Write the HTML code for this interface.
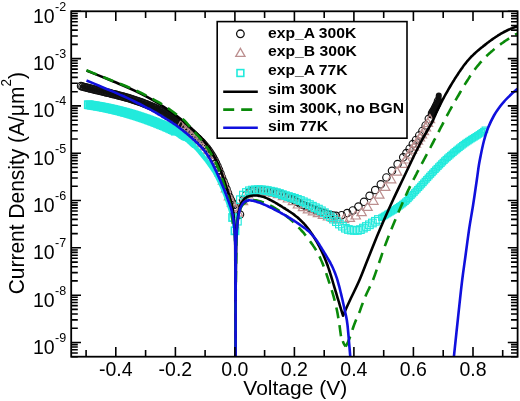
<!DOCTYPE html><html><head><meta charset="utf-8"><style>html,body{margin:0;padding:0;background:#fff;}svg{display:block;}text{font-family:"Liberation Sans", Arial, Helvetica, sans-serif;}</style></head><body>
<svg width="520" height="401" viewBox="0 0 520 401">
<rect x="0" y="0" width="520" height="401" fill="#fff"/>
<defs><clipPath id="c"><rect x="71.2" y="11.3" width="446.4" height="345.4"/></clipPath></defs>
<g clip-path="url(#c)">
<path d="M82.3,86.5 L83.2,86.7 L84.1,86.9 L85.1,87.2 L86.2,87.5 L87.4,87.8 L88.6,88.1 L89.7,88.4 L90.9,88.7 L92.0,88.9 L93.0,89.2 L94.0,89.4 L95.0,89.7 L96.0,89.9 L97.0,90.2 L98.0,90.4 L99.0,90.6 L100.0,90.9 L101.0,91.1 L102.0,91.3 L103.0,91.6 L104.0,91.8 L105.0,92.1 L106.0,92.3 L107.0,92.5 L108.0,92.8 L109.0,93.0 L110.0,93.3 L111.0,93.5 L112.0,93.7 L113.0,94.0 L114.0,94.2 L115.0,94.5 L116.0,94.7 L117.0,95.0 L118.0,95.3 L119.0,95.5 L120.0,95.8 L121.0,96.0 L122.0,96.3 L123.0,96.6 L124.0,96.9 L125.0,97.1 L126.0,97.4 L127.0,97.7 L128.0,98.0 L129.0,98.3 L130.0,98.6 L131.0,98.9 L132.0,99.2 L133.0,99.5 L134.0,99.8 L135.0,100.2 L136.0,100.5 L137.0,100.8 L138.0,101.2 L139.0,101.5 L140.0,101.9 L141.0,102.2 L142.0,102.6 L143.0,103.0 L144.0,103.4 L145.0,103.7 L146.0,104.1 L147.0,104.5 L148.0,104.9 L149.0,105.4 L150.0,105.8 L151.0,106.2 L152.0,106.7 L153.0,107.1 L154.0,107.6 L155.0,108.0 L156.0,108.5 L157.0,109.0 L158.0,109.5 L159.0,110.0 L160.0,110.5 L161.0,111.0 L162.0,111.5 L163.0,112.1 L164.0,112.6 L165.0,113.2 L166.0,113.8 L167.0,114.4 L168.1,115.0 L169.1,115.7 L170.2,116.3 L171.2,117.0 L172.3,117.7 L173.3,118.3 L174.3,119.0 L175.2,119.6 L176.1,120.2 L177.0,120.8 L177.8,121.3 L178.6,121.9 L179.3,122.4 L180.0,122.9 L180.6,123.4 L181.2,123.8 L181.9,124.3 L182.5,124.8 L183.1,125.3 L183.7,125.8 L184.3,126.3 L185.0,126.8 L185.7,127.4 L186.3,128.0 L187.0,128.6 L187.7,129.2 L188.4,129.8 L189.1,130.4 L189.7,131.0" fill="none" stroke="#111" stroke-width="4.6" stroke-linecap="round"/>
<path d="M430.7,115.4 L430.9,115.0 L431.1,114.7 L431.3,114.4 L431.5,114.1 L431.7,113.8 L431.9,113.5 L432.1,113.2 L432.3,112.8 L432.5,112.5 L432.7,112.1 L432.9,111.8 L433.1,111.4 L433.4,111.0 L433.6,110.6 L433.8,110.2 L434.0,109.9 L434.2,109.5 L434.4,109.1 L434.6,108.7 L434.8,108.4 L435.0,108.0 L435.2,107.6 L435.4,107.3 L435.6,107.0 L435.7,106.6 L435.9,106.3 L436.1,106.0 L436.2,105.6 L436.4,105.3 L436.6,105.0 L436.7,104.7 L436.9,104.3 L437.0,104.0 L437.1,103.7 L437.3,103.3 L437.4,103.0 L437.5,102.7 L437.6,102.4 L437.7,102.0 L437.8,101.7 L437.9,101.4 L438.0,101.0 L438.0,100.7 L438.1,100.4 L438.2,100.0 L438.3,99.6 L438.3,99.2 L438.4,98.8 L438.5,98.4 L438.5,97.9 L438.6,97.5 L438.6,97.1 L438.7,96.7 L438.7,96.3 L438.7,96.0 L438.8,95.7 L438.8,95.5" fill="none" stroke="#111" stroke-width="6" stroke-linecap="round"/>
<g fill="none" stroke="#111" stroke-width="1.15">
<circle cx="81.0" cy="86.1" r="3.7"/>
<circle cx="82.5" cy="86.5" r="3.7"/>
<circle cx="84.0" cy="86.9" r="3.7"/>
<circle cx="85.5" cy="87.3" r="3.7"/>
<circle cx="87.0" cy="87.7" r="3.7"/>
<circle cx="88.5" cy="88.1" r="3.7"/>
<circle cx="90.0" cy="88.4" r="3.7"/>
<circle cx="91.5" cy="88.8" r="3.7"/>
<circle cx="93.0" cy="89.2" r="3.7"/>
<circle cx="94.5" cy="89.6" r="3.7"/>
<circle cx="96.0" cy="89.9" r="3.7"/>
<circle cx="97.5" cy="90.3" r="3.7"/>
<circle cx="99.0" cy="90.6" r="3.7"/>
<circle cx="100.5" cy="91.0" r="3.7"/>
<circle cx="102.0" cy="91.3" r="3.7"/>
<circle cx="103.5" cy="91.7" r="3.7"/>
<circle cx="105.0" cy="92.1" r="3.7"/>
<circle cx="106.5" cy="92.4" r="3.7"/>
<circle cx="108.0" cy="92.8" r="3.7"/>
<circle cx="109.5" cy="93.1" r="3.7"/>
<circle cx="111.0" cy="93.5" r="3.7"/>
<circle cx="112.5" cy="93.9" r="3.7"/>
<circle cx="114.0" cy="94.2" r="3.7"/>
<circle cx="115.5" cy="94.6" r="3.7"/>
<circle cx="117.0" cy="95.0" r="3.7"/>
<circle cx="118.5" cy="95.4" r="3.7"/>
<circle cx="120.0" cy="95.8" r="3.7"/>
<circle cx="121.5" cy="96.2" r="3.7"/>
<circle cx="123.0" cy="96.6" r="3.7"/>
<circle cx="124.5" cy="97.0" r="3.7"/>
<circle cx="126.0" cy="97.4" r="3.7"/>
<circle cx="127.5" cy="97.8" r="3.7"/>
<circle cx="129.0" cy="98.3" r="3.7"/>
<circle cx="130.5" cy="98.7" r="3.7"/>
<circle cx="132.0" cy="99.2" r="3.7"/>
<circle cx="133.5" cy="99.7" r="3.7"/>
<circle cx="135.0" cy="100.2" r="3.7"/>
<circle cx="136.5" cy="100.7" r="3.7"/>
<circle cx="138.0" cy="101.2" r="3.7"/>
<circle cx="139.5" cy="101.7" r="3.7"/>
<circle cx="141.0" cy="102.2" r="3.7"/>
<circle cx="142.5" cy="102.8" r="3.7"/>
<circle cx="144.0" cy="103.4" r="3.7"/>
<circle cx="145.5" cy="103.9" r="3.7"/>
<circle cx="147.0" cy="104.5" r="3.7"/>
<circle cx="148.5" cy="105.2" r="3.7"/>
<circle cx="150.0" cy="105.8" r="3.7"/>
<circle cx="151.5" cy="106.4" r="3.7"/>
<circle cx="153.0" cy="107.1" r="3.7"/>
<circle cx="154.5" cy="107.8" r="3.7"/>
<circle cx="156.0" cy="108.5" r="3.7"/>
<circle cx="157.5" cy="109.2" r="3.7"/>
<circle cx="159.0" cy="110.0" r="3.7"/>
<circle cx="160.5" cy="110.8" r="3.7"/>
<circle cx="162.0" cy="111.5" r="3.7"/>
<circle cx="163.5" cy="112.4" r="3.7"/>
<circle cx="165.0" cy="113.2" r="3.7"/>
<circle cx="166.5" cy="114.1" r="3.7"/>
<circle cx="168.0" cy="115.0" r="3.7"/>
<circle cx="169.5" cy="115.9" r="3.7"/>
<circle cx="171.0" cy="116.8" r="3.7"/>
<circle cx="172.5" cy="117.8" r="3.7"/>
<circle cx="174.0" cy="118.8" r="3.7"/>
<circle cx="175.5" cy="119.8" r="3.7"/>
<circle cx="177.0" cy="120.8" r="3.7"/>
<circle cx="178.5" cy="121.8" r="3.7"/>
<circle cx="180.0" cy="122.9" r="3.7"/>
<circle cx="181.5" cy="124.0" r="3.7"/>
<circle cx="183.0" cy="125.2" r="3.7"/>
<circle cx="184.5" cy="126.4" r="3.7"/>
<circle cx="186.0" cy="127.7" r="3.7"/>
<circle cx="187.5" cy="129.0" r="3.7"/>
<circle cx="189.0" cy="130.3" r="3.7"/>
<circle cx="190.5" cy="131.7" r="3.7"/>
<circle cx="192.0" cy="133.1" r="3.7"/>
<circle cx="193.5" cy="134.5" r="3.7"/>
<circle cx="195.0" cy="135.8" r="3.7"/>
<circle cx="196.5" cy="137.2" r="3.7"/>
<circle cx="198.0" cy="138.6" r="3.7"/>
<circle cx="199.5" cy="140.0" r="3.7"/>
<circle cx="201.0" cy="141.5" r="3.7"/>
<circle cx="202.5" cy="143.1" r="3.7"/>
<circle cx="204.0" cy="144.7" r="3.7"/>
<circle cx="205.5" cy="146.4" r="3.7"/>
<circle cx="207.0" cy="148.3" r="3.7"/>
<circle cx="208.5" cy="150.3" r="3.7"/>
<circle cx="210.0" cy="152.5" r="3.7"/>
<circle cx="211.5" cy="154.8" r="3.7"/>
<circle cx="213.0" cy="157.3" r="3.7"/>
<circle cx="214.5" cy="160.1" r="3.7"/>
<circle cx="216.0" cy="163.0" r="3.7"/>
<circle cx="217.5" cy="166.3" r="3.7"/>
<circle cx="219.0" cy="169.8" r="3.7"/>
<circle cx="220.5" cy="173.5" r="3.7"/>
<circle cx="222.0" cy="177.4" r="3.7"/>
<circle cx="223.5" cy="181.3" r="3.7"/>
<circle cx="225.0" cy="185.1" r="3.7"/>
<circle cx="226.5" cy="189.0" r="3.7"/>
<circle cx="228.0" cy="193.1" r="3.7"/>
<circle cx="229.5" cy="197.0" r="3.7"/>
<circle cx="231.0" cy="200.2" r="3.7"/>
<circle cx="232.5" cy="203.0" r="3.7"/>
<circle cx="234.0" cy="205.0" r="3.7"/>
<circle cx="235.5" cy="207.0" r="3.7"/>
<circle cx="237.0" cy="210.1" r="3.7"/>
<circle cx="240.0" cy="214.5" r="3.7"/>
<circle cx="243.0" cy="200.1" r="3.7"/>
<circle cx="246.0" cy="194.9" r="3.7"/>
<circle cx="249.0" cy="192.6" r="3.7"/>
<circle cx="252.0" cy="191.1" r="3.7"/>
<circle cx="255.0" cy="190.3" r="3.7"/>
<circle cx="258.0" cy="190.0" r="3.7"/>
<circle cx="261.0" cy="190.0" r="3.7"/>
<circle cx="264.0" cy="190.2" r="3.7"/>
<circle cx="267.0" cy="190.6" r="3.7"/>
<circle cx="270.0" cy="191.1" r="3.7"/>
<circle cx="273.0" cy="191.7" r="3.7"/>
<circle cx="276.0" cy="192.5" r="3.7"/>
<circle cx="279.0" cy="193.4" r="3.7"/>
<circle cx="282.0" cy="194.6" r="3.7"/>
<circle cx="285.0" cy="195.8" r="3.7"/>
<circle cx="288.0" cy="197.1" r="3.7"/>
<circle cx="291.0" cy="198.5" r="3.7"/>
<circle cx="294.0" cy="200.1" r="3.7"/>
<circle cx="297.0" cy="201.9" r="3.7"/>
<circle cx="300.0" cy="203.5" r="3.7"/>
<circle cx="303.0" cy="204.9" r="3.7"/>
<circle cx="306.0" cy="206.2" r="3.7"/>
<circle cx="309.0" cy="207.4" r="3.7"/>
<circle cx="312.0" cy="208.6" r="3.7"/>
<circle cx="315.0" cy="209.8" r="3.7"/>
<circle cx="318.0" cy="210.9" r="3.7"/>
<circle cx="321.0" cy="212.0" r="3.7"/>
<circle cx="324.0" cy="213.0" r="3.7"/>
<circle cx="327.0" cy="214.0" r="3.7"/>
<circle cx="330.0" cy="214.8" r="3.7"/>
<circle cx="333.0" cy="215.4" r="3.7"/>
<circle cx="336.0" cy="215.8" r="3.7"/>
<circle cx="341.6" cy="215.2" r="3.7"/>
<circle cx="347.2" cy="213.0" r="3.7"/>
<circle cx="352.8" cy="210.4" r="3.7"/>
<circle cx="358.4" cy="206.6" r="3.7"/>
<circle cx="364.0" cy="201.8" r="3.7"/>
<circle cx="369.6" cy="195.8" r="3.7"/>
<circle cx="375.2" cy="190.0" r="3.7"/>
<circle cx="380.8" cy="184.3" r="3.7"/>
<circle cx="386.4" cy="177.4" r="3.7"/>
<circle cx="392.0" cy="170.8" r="3.7"/>
<circle cx="397.6" cy="164.0" r="3.7"/>
<circle cx="403.2" cy="157.3" r="3.7"/>
<circle cx="406.4" cy="153.1" r="3.7"/>
<circle cx="409.6" cy="148.7" r="3.7"/>
<circle cx="412.8" cy="144.1" r="3.7"/>
<circle cx="416.0" cy="139.9" r="3.7"/>
<circle cx="419.2" cy="135.4" r="3.7"/>
<circle cx="422.4" cy="130.9" r="3.7"/>
<circle cx="425.6" cy="125.4" r="3.7"/>
<circle cx="428.8" cy="118.8" r="3.7"/>
<circle cx="432.0" cy="113.3" r="3.7"/>
<circle cx="433.0" cy="111.6" r="3.7"/>
<circle cx="434.0" cy="109.9" r="3.7"/>
<circle cx="435.0" cy="108.0" r="3.7"/>
<circle cx="436.0" cy="106.1" r="3.7"/>
<circle cx="437.0" cy="104.0" r="3.7"/>
<circle cx="438.0" cy="100.9" r="3.7"/>
</g>
<g fill="none" stroke="#bc8f8f" stroke-width="1.2">
<path d="M181.0,120.1l4.7,8.2h-9.4z"/>
<path d="M184.0,122.6l4.7,8.2h-9.4z"/>
<path d="M187.0,125.0l4.7,8.2h-9.4z"/>
<path d="M190.0,127.4l4.7,8.2h-9.4z"/>
<path d="M193.0,129.9l4.7,8.2h-9.4z"/>
<path d="M196.0,132.6l4.7,8.2h-9.4z"/>
<path d="M199.0,135.4l4.7,8.2h-9.4z"/>
<path d="M202.0,138.4l4.7,8.2h-9.4z"/>
<path d="M205.0,141.7l4.7,8.2h-9.4z"/>
<path d="M208.0,145.5l4.7,8.2h-9.4z"/>
<path d="M211.0,149.9l4.7,8.2h-9.4z"/>
<path d="M214.0,155.0l4.7,8.2h-9.4z"/>
<path d="M217.0,161.1l4.7,8.2h-9.4z"/>
<path d="M220.0,168.1l4.7,8.2h-9.4z"/>
<path d="M223.0,175.9l4.7,8.2h-9.4z"/>
<path d="M226.0,183.6l4.7,8.2h-9.4z"/>
<path d="M229.0,191.7l4.7,8.2h-9.4z"/>
<path d="M232.0,198.0l4.7,8.2h-9.4z"/>
<path d="M235.0,202.2l4.7,8.2h-9.4z"/>
<path d="M238.0,207.9l4.7,8.2h-9.4z"/>
<path d="M243.0,196.5l4.7,8.2h-9.4z"/>
<path d="M248.0,189.6l4.7,8.2h-9.4z"/>
<path d="M253.0,187.2l4.7,8.2h-9.4z"/>
<path d="M258.0,186.4l4.7,8.2h-9.4z"/>
<path d="M263.0,186.5l4.7,8.2h-9.4z"/>
<path d="M268.0,187.1l4.7,8.2h-9.4z"/>
<path d="M273.0,188.1l4.7,8.2h-9.4z"/>
<path d="M278.0,189.5l4.7,8.2h-9.4z"/>
<path d="M283.0,191.5l4.7,8.2h-9.4z"/>
<path d="M288.0,193.8l4.7,8.2h-9.4z"/>
<path d="M293.0,196.5l4.7,8.2h-9.4z"/>
<path d="M298.0,199.8l4.7,8.2h-9.4z"/>
<path d="M303.0,202.4l4.7,8.2h-9.4z"/>
<path d="M308.0,204.6l4.7,8.2h-9.4z"/>
<path d="M313.0,206.6l4.7,8.2h-9.4z"/>
<path d="M318.0,208.5l4.7,8.2h-9.4z"/>
<path d="M323.0,210.2l4.7,8.2h-9.4z"/>
<path d="M328.0,211.8l4.7,8.2h-9.4z"/>
<path d="M333.0,213.3l4.7,8.2h-9.4z"/>
<path d="M338.0,214.7l4.7,8.2h-9.4z"/>
<path d="M343.9,214.3l4.7,8.2h-9.4z"/>
<path d="M349.8,213.1l4.7,8.2h-9.4z"/>
<path d="M355.7,210.8l4.7,8.2h-9.4z"/>
<path d="M361.6,207.4l4.7,8.2h-9.4z"/>
<path d="M367.5,202.2l4.7,8.2h-9.4z"/>
<path d="M373.4,196.1l4.7,8.2h-9.4z"/>
<path d="M379.3,189.9l4.7,8.2h-9.4z"/>
<path d="M385.2,182.2l4.7,8.2h-9.4z"/>
<path d="M391.1,174.6l4.7,8.2h-9.4z"/>
<path d="M397.0,166.9l4.7,8.2h-9.4z"/>
<path d="M402.9,159.2l4.7,8.2h-9.4z"/>
<path d="M405.9,154.8l4.7,8.2h-9.4z"/>
<path d="M408.9,149.8l4.7,8.2h-9.4z"/>
<path d="M411.9,145.0l4.7,8.2h-9.4z"/>
<path d="M413.9,142.0l4.7,8.2h-9.4z"/>
<path d="M415.9,139.0l4.7,8.2h-9.4z"/>
<path d="M417.9,135.9l4.7,8.2h-9.4z"/>
<path d="M419.9,132.8l4.7,8.2h-9.4z"/>
<path d="M421.9,129.7l4.7,8.2h-9.4z"/>
<path d="M423.9,126.5l4.7,8.2h-9.4z"/>
<path d="M425.9,122.8l4.7,8.2h-9.4z"/>
<path d="M427.9,118.3l4.7,8.2h-9.4z"/>
<path d="M429.9,114.4l4.7,8.2h-9.4z"/>
</g>
<path d="M89.6,104.9 L90.5,105.0 L91.4,105.2 L92.4,105.4 L93.5,105.5 L94.7,105.7 L95.9,105.9 L97.0,106.1 L98.2,106.3 L99.3,106.5 L100.3,106.7 L101.3,106.9 L102.3,107.1 L103.3,107.3 L104.3,107.5 L105.3,107.7 L106.3,107.9 L107.3,108.1 L108.3,108.3 L109.3,108.5 L110.3,108.8 L111.3,109.0 L112.3,109.2 L113.3,109.4 L114.3,109.7 L115.3,109.9 L116.3,110.1 L117.3,110.4 L118.3,110.6 L119.3,110.9 L120.3,111.1 L121.3,111.4 L122.3,111.7 L123.3,111.9 L124.3,112.2 L125.3,112.5 L126.3,112.7 L127.3,113.0 L128.3,113.3 L129.3,113.6 L130.3,113.9 L131.3,114.2 L132.3,114.5 L133.3,114.8 L134.3,115.1 L135.3,115.4 L136.3,115.7 L137.3,116.0 L138.3,116.3 L139.3,116.7 L140.3,117.0 L141.3,117.3 L142.3,117.7 L143.3,118.0 L144.3,118.4 L145.3,118.7 L146.3,119.0 L147.3,119.4 L148.3,119.8 L149.3,120.1 L150.3,120.5 L151.4,120.9 L152.4,121.3 L153.4,121.7 L154.4,122.1 L155.5,122.5 L156.5,122.8 L157.5,123.2 L158.4,123.6 L159.4,124.0 L160.3,124.4 L161.2,124.7 L162.1,125.1 L163.0,125.5 L163.9,125.9 L164.7,126.2 L165.6,126.6 L166.4,126.9 L167.2,127.3 L168.0,127.6 L168.7,127.9 L169.4,128.2 L170.0,128.5 L170.6,128.8 L171.1,129.0 L171.6,129.2 L172.0,129.4 L172.4,129.6 L172.8,129.8 L173.2,130.0 L173.5,130.2 L173.9,130.3 L174.2,130.5 L174.6,130.8 L175.0,131.0 L175.4,131.3 L175.8,131.5 L176.2,131.8 L176.7,132.1 L177.1,132.4 L177.5,132.7 L177.9,133.0 L178.3,133.3 L178.8,133.6 L179.2,133.9 L179.6,134.2 L180.0,134.5" fill="none" stroke="#22eadc" stroke-width="6" stroke-linecap="round"/>
<path d="M168.7,127.9 L169.4,128.2 L170.0,128.5 L170.6,128.8 L171.1,129.0 L171.6,129.2 L172.0,129.4 L172.4,129.6 L172.8,129.8 L173.2,130.0 L173.5,130.2 L173.9,130.3 L174.2,130.5 L174.6,130.8 L175.0,131.0 L175.4,131.3 L175.8,131.5 L176.2,131.8 L176.7,132.1 L177.1,132.4 L177.5,132.7 L177.9,133.0 L178.3,133.3 L178.8,133.6 L179.2,133.9 L179.6,134.2 L180.0,134.5 L180.4,134.8 L180.8,135.1 L181.2,135.4 L181.7,135.6 L182.1,135.9 L182.5,136.2 L182.9,136.5 L183.3,136.8 L183.8,137.1" fill="none" stroke="#22eadc" stroke-width="7.6" stroke-linecap="round"/>
<path d="M184.2,137.4 L184.6,137.7 L185.0,138.0 L185.4,138.3 L185.8,138.6 L186.2,138.9 L186.6,139.2 L187.0,139.5 L187.4,139.8 L187.8,140.1 L188.2,140.4 L188.6,140.8 L189.1,141.2 L189.5,141.6 L190.0,142.0 L190.5,142.5 L191.1,143.0 L191.7,143.6 L192.3,144.1 L192.9,144.8 L193.5,145.4" fill="none" stroke="#22eadc" stroke-width="5.5" stroke-linecap="round"/>
<path d="M192.3,144.1 L192.9,144.8 L193.5,145.4 L194.1,146.0 L194.7,146.6 L195.3,147.2 L195.9,147.9 L196.5,148.4 L197.0,149.0 L197.5,149.5 L198.0,150.1 L198.4,150.6 L198.8,151.1 L199.3,151.6 L199.7,152.1 L200.1,152.6 L200.4,153.1 L200.8,153.6 L201.2,154.0 L201.6,154.5 L202.0,155.0 L202.4,155.5 L202.8,155.9 L203.2,156.4 L203.6,156.9 L203.9,157.3 L204.3,157.8 L204.7,158.2 L205.1,158.7 L205.4,159.1 L205.8,159.6 L206.1,160.0 L206.5,160.5 L206.9,161.0 L207.2,161.4 L207.5,161.9 L207.9,162.3 L208.2,162.8 L208.5,163.2 L208.9,163.7 L209.2,164.1 L209.5,164.6 L209.8,165.1 L210.2,165.5 L210.5,166.0 L210.8,166.5 L211.2,167.0 L211.5,167.5 L211.9,167.9 L212.2,168.4 L212.5,168.9 L212.9,169.4 L213.2,169.9 L213.5,170.5 L213.9,171.0 L214.2,171.5 L214.5,172.0 L214.8,172.5 L215.1,173.0 L215.4,173.6 L215.7,174.1 L216.0,174.6 L216.3,175.2 L216.6,175.7 L216.9,176.3 L217.2,176.8 L217.4,177.4 L217.7,177.9 L218.0,178.5 L218.3,179.1 L218.6,179.6 L218.8,180.2 L219.1,180.8 L219.4,181.4 L219.7,182.0 L220.0,182.6 L220.2,183.1 L220.5,183.7 L220.8,184.3 L221.0,184.9 L221.3,185.5 L221.6,186.1 L221.8,186.7 L222.1,187.3 L222.3,187.9 L222.6,188.4 L222.9,189.0 L223.1,189.6 L223.3,190.2 L223.6,190.8 L223.8,191.4 L224.1,191.9 L224.3,192.5 L224.5,193.1 L224.7,193.6 L225.0,194.1 L225.2,194.7 L225.4,195.2 L225.6,195.8 L225.8,196.3 L226.0,196.8 L226.2,197.4 L226.4,197.9 L226.6,198.4 L226.8,199.0 L227.0,199.6 L227.2,200.1 L227.4,200.7 L227.6,201.3 L227.8,201.9 L228.0,202.5 L228.2,203.1 L228.4,203.6 L228.6,204.2 L228.8,204.8 L229.0,205.4 L229.2,206.0 L229.4,206.6 L229.6,207.2 L229.8,207.8 L230.0,208.3 L230.2,208.9 L230.3,209.5 L230.5,210.1 L230.7,210.7 L230.9,211.2 L231.1,211.8 L231.2,212.4 L231.4,213.0 L231.6,213.6 L231.7,214.2 L231.9,214.8 L232.0,215.3 L232.2,215.9 L232.3,216.5 L232.5,217.1 L232.6,217.7 L232.8,218.2 L232.9,218.8 L233.1,219.4 L233.2,220.0 L233.3,220.6 L233.5,221.2 L233.6,221.8 L233.7,222.4 L233.8,223.0 L234.0,223.6 L234.1,224.2 L234.2,224.7 L234.3,225.3 L234.4,225.9" fill="none" stroke="#22eadc" stroke-width="4.3" stroke-linecap="round"/>
<g fill="none" stroke="#22eadc" stroke-width="1.6">
<rect x="84.7" y="101.1" width="7.2" height="7.2"/>
<rect x="86.2" y="101.3" width="7.2" height="7.2"/>
<rect x="87.7" y="101.6" width="7.2" height="7.2"/>
<rect x="89.2" y="101.8" width="7.2" height="7.2"/>
<rect x="90.7" y="102.1" width="7.2" height="7.2"/>
<rect x="92.2" y="102.3" width="7.2" height="7.2"/>
<rect x="93.7" y="102.6" width="7.2" height="7.2"/>
<rect x="95.2" y="102.8" width="7.2" height="7.2"/>
<rect x="96.7" y="103.1" width="7.2" height="7.2"/>
<rect x="98.2" y="103.4" width="7.2" height="7.2"/>
<rect x="99.7" y="103.7" width="7.2" height="7.2"/>
<rect x="101.2" y="104.0" width="7.2" height="7.2"/>
<rect x="102.7" y="104.3" width="7.2" height="7.2"/>
<rect x="104.2" y="104.6" width="7.2" height="7.2"/>
<rect x="105.7" y="104.9" width="7.2" height="7.2"/>
<rect x="107.2" y="105.3" width="7.2" height="7.2"/>
<rect x="108.7" y="105.6" width="7.2" height="7.2"/>
<rect x="110.2" y="105.9" width="7.2" height="7.2"/>
<rect x="111.7" y="106.3" width="7.2" height="7.2"/>
<rect x="113.2" y="106.7" width="7.2" height="7.2"/>
<rect x="114.7" y="107.0" width="7.2" height="7.2"/>
<rect x="116.2" y="107.4" width="7.2" height="7.2"/>
<rect x="117.7" y="107.8" width="7.2" height="7.2"/>
<rect x="119.2" y="108.2" width="7.2" height="7.2"/>
<rect x="120.7" y="108.6" width="7.2" height="7.2"/>
<rect x="122.2" y="109.0" width="7.2" height="7.2"/>
<rect x="123.7" y="109.4" width="7.2" height="7.2"/>
<rect x="125.2" y="109.9" width="7.2" height="7.2"/>
<rect x="126.7" y="110.3" width="7.2" height="7.2"/>
<rect x="128.2" y="110.7" width="7.2" height="7.2"/>
<rect x="129.7" y="111.2" width="7.2" height="7.2"/>
<rect x="131.2" y="111.6" width="7.2" height="7.2"/>
<rect x="132.7" y="112.1" width="7.2" height="7.2"/>
<rect x="134.2" y="112.6" width="7.2" height="7.2"/>
<rect x="135.7" y="113.1" width="7.2" height="7.2"/>
<rect x="137.2" y="113.6" width="7.2" height="7.2"/>
<rect x="138.7" y="114.1" width="7.2" height="7.2"/>
<rect x="140.2" y="114.6" width="7.2" height="7.2"/>
<rect x="141.7" y="115.1" width="7.2" height="7.2"/>
<rect x="143.2" y="115.6" width="7.2" height="7.2"/>
<rect x="144.7" y="116.2" width="7.2" height="7.2"/>
<rect x="146.2" y="116.7" width="7.2" height="7.2"/>
<rect x="147.7" y="117.3" width="7.2" height="7.2"/>
<rect x="149.2" y="117.8" width="7.2" height="7.2"/>
<rect x="150.7" y="118.4" width="7.2" height="7.2"/>
<rect x="152.2" y="119.0" width="7.2" height="7.2"/>
<rect x="153.7" y="119.6" width="7.2" height="7.2"/>
<rect x="155.2" y="120.2" width="7.2" height="7.2"/>
<rect x="156.7" y="120.8" width="7.2" height="7.2"/>
<rect x="158.2" y="121.4" width="7.2" height="7.2"/>
<rect x="159.7" y="122.0" width="7.2" height="7.2"/>
<rect x="161.2" y="122.6" width="7.2" height="7.2"/>
<rect x="162.7" y="123.3" width="7.2" height="7.2"/>
<rect x="164.2" y="123.9" width="7.2" height="7.2"/>
<rect x="165.7" y="124.6" width="7.2" height="7.2"/>
<rect x="167.2" y="125.3" width="7.2" height="7.2"/>
<rect x="168.7" y="126.0" width="7.2" height="7.2"/>
<rect x="170.2" y="126.7" width="7.2" height="7.2"/>
<rect x="171.7" y="127.6" width="7.2" height="7.2"/>
<rect x="229.0" y="213.9" width="7.2" height="7.2"/>
<rect x="231.4" y="227.2" width="7.2" height="7.2"/>
</g>
<g fill="none" stroke="#22eadc" stroke-width="1.25">
<rect x="378.7" y="215.0" width="5.4" height="5.4"/>
<rect x="380.2" y="214.1" width="5.4" height="5.4"/>
<rect x="381.7" y="213.2" width="5.4" height="5.4"/>
<rect x="383.2" y="212.3" width="5.4" height="5.4"/>
<rect x="384.7" y="211.3" width="5.4" height="5.4"/>
<rect x="386.2" y="210.4" width="5.4" height="5.4"/>
<rect x="387.7" y="209.5" width="5.4" height="5.4"/>
<rect x="389.2" y="208.6" width="5.4" height="5.4"/>
<rect x="390.7" y="207.7" width="5.4" height="5.4"/>
<rect x="392.2" y="206.7" width="5.4" height="5.4"/>
<rect x="393.7" y="205.6" width="5.4" height="5.4"/>
<rect x="395.2" y="204.6" width="5.4" height="5.4"/>
<rect x="396.7" y="203.6" width="5.4" height="5.4"/>
<rect x="398.2" y="202.5" width="5.4" height="5.4"/>
<rect x="399.7" y="201.4" width="5.4" height="5.4"/>
<rect x="401.2" y="200.2" width="5.4" height="5.4"/>
<rect x="402.7" y="199.0" width="5.4" height="5.4"/>
<rect x="404.2" y="197.6" width="5.4" height="5.4"/>
<rect x="405.7" y="196.1" width="5.4" height="5.4"/>
<rect x="407.2" y="194.5" width="5.4" height="5.4"/>
<rect x="408.7" y="192.9" width="5.4" height="5.4"/>
<rect x="410.2" y="191.4" width="5.4" height="5.4"/>
<rect x="411.7" y="189.8" width="5.4" height="5.4"/>
<rect x="413.2" y="188.2" width="5.4" height="5.4"/>
<rect x="414.7" y="186.6" width="5.4" height="5.4"/>
<rect x="416.2" y="185.0" width="5.4" height="5.4"/>
<rect x="417.7" y="183.4" width="5.4" height="5.4"/>
<rect x="419.2" y="181.7" width="5.4" height="5.4"/>
<rect x="420.7" y="180.1" width="5.4" height="5.4"/>
<rect x="422.2" y="178.4" width="5.4" height="5.4"/>
<rect x="423.7" y="176.7" width="5.4" height="5.4"/>
<rect x="425.2" y="175.1" width="5.4" height="5.4"/>
<rect x="426.7" y="173.4" width="5.4" height="5.4"/>
<rect x="428.2" y="171.8" width="5.4" height="5.4"/>
<rect x="429.7" y="170.2" width="5.4" height="5.4"/>
<rect x="431.2" y="168.6" width="5.4" height="5.4"/>
<rect x="432.7" y="167.0" width="5.4" height="5.4"/>
<rect x="434.2" y="165.5" width="5.4" height="5.4"/>
<rect x="435.7" y="163.9" width="5.4" height="5.4"/>
<rect x="437.2" y="162.4" width="5.4" height="5.4"/>
<rect x="438.7" y="160.9" width="5.4" height="5.4"/>
<rect x="440.2" y="159.4" width="5.4" height="5.4"/>
<rect x="441.7" y="157.9" width="5.4" height="5.4"/>
<rect x="443.2" y="156.5" width="5.4" height="5.4"/>
<rect x="444.7" y="155.1" width="5.4" height="5.4"/>
<rect x="446.2" y="153.8" width="5.4" height="5.4"/>
<rect x="447.7" y="152.5" width="5.4" height="5.4"/>
<rect x="449.2" y="151.2" width="5.4" height="5.4"/>
<rect x="450.7" y="149.9" width="5.4" height="5.4"/>
<rect x="452.2" y="148.6" width="5.4" height="5.4"/>
<rect x="453.7" y="147.4" width="5.4" height="5.4"/>
<rect x="455.2" y="146.2" width="5.4" height="5.4"/>
<rect x="456.7" y="145.0" width="5.4" height="5.4"/>
<rect x="458.2" y="143.8" width="5.4" height="5.4"/>
<rect x="459.7" y="142.6" width="5.4" height="5.4"/>
<rect x="461.2" y="141.5" width="5.4" height="5.4"/>
<rect x="462.7" y="140.4" width="5.4" height="5.4"/>
<rect x="464.2" y="139.4" width="5.4" height="5.4"/>
<rect x="465.7" y="138.4" width="5.4" height="5.4"/>
<rect x="467.2" y="137.4" width="5.4" height="5.4"/>
<rect x="468.7" y="136.4" width="5.4" height="5.4"/>
<rect x="470.2" y="135.5" width="5.4" height="5.4"/>
<rect x="471.7" y="134.6" width="5.4" height="5.4"/>
<rect x="473.2" y="133.6" width="5.4" height="5.4"/>
<rect x="474.7" y="132.7" width="5.4" height="5.4"/>
<rect x="476.2" y="131.7" width="5.4" height="5.4"/>
<rect x="477.7" y="130.7" width="5.4" height="5.4"/>
<rect x="479.2" y="129.6" width="5.4" height="5.4"/>
<rect x="480.7" y="128.5" width="5.4" height="5.4"/>
<rect x="482.2" y="127.1" width="5.4" height="5.4"/>
</g>
<g fill="none" stroke="#22eadc" stroke-width="1.15">
<rect x="233.6" y="217.4" width="7.6" height="7.6"/>
<rect x="236.6" y="195.9" width="7.6" height="7.6"/>
<rect x="239.6" y="191.3" width="7.6" height="7.6"/>
<rect x="242.6" y="188.7" width="7.6" height="7.6"/>
<rect x="245.6" y="187.0" width="7.6" height="7.6"/>
<rect x="248.6" y="186.3" width="7.6" height="7.6"/>
<rect x="251.6" y="186.0" width="7.6" height="7.6"/>
<rect x="254.6" y="185.9" width="7.6" height="7.6"/>
<rect x="257.6" y="186.0" width="7.6" height="7.6"/>
<rect x="260.6" y="186.3" width="7.6" height="7.6"/>
<rect x="263.6" y="186.8" width="7.6" height="7.6"/>
<rect x="266.6" y="187.4" width="7.6" height="7.6"/>
<rect x="269.6" y="188.0" width="7.6" height="7.6"/>
<rect x="272.6" y="188.8" width="7.6" height="7.6"/>
<rect x="275.6" y="189.7" width="7.6" height="7.6"/>
<rect x="278.6" y="190.8" width="7.6" height="7.6"/>
<rect x="281.6" y="191.8" width="7.6" height="7.6"/>
<rect x="284.6" y="192.7" width="7.6" height="7.6"/>
<rect x="287.6" y="193.6" width="7.6" height="7.6"/>
<rect x="290.6" y="194.5" width="7.6" height="7.6"/>
<rect x="293.6" y="195.6" width="7.6" height="7.6"/>
<rect x="296.6" y="196.7" width="7.6" height="7.6"/>
<rect x="299.6" y="198.0" width="7.6" height="7.6"/>
<rect x="302.6" y="199.3" width="7.6" height="7.6"/>
<rect x="305.6" y="200.8" width="7.6" height="7.6"/>
<rect x="308.6" y="202.4" width="7.6" height="7.6"/>
<rect x="311.6" y="203.9" width="7.6" height="7.6"/>
<rect x="314.6" y="205.3" width="7.6" height="7.6"/>
<rect x="317.6" y="207.0" width="7.6" height="7.6"/>
<rect x="320.6" y="208.9" width="7.6" height="7.6"/>
<rect x="323.6" y="210.9" width="7.6" height="7.6"/>
<rect x="326.6" y="213.0" width="7.6" height="7.6"/>
<rect x="329.6" y="215.3" width="7.6" height="7.6"/>
<rect x="332.6" y="217.8" width="7.6" height="7.6"/>
<rect x="335.6" y="220.2" width="7.6" height="7.6"/>
<rect x="338.6" y="222.4" width="7.6" height="7.6"/>
<rect x="341.6" y="224.4" width="7.6" height="7.6"/>
<rect x="344.6" y="225.7" width="7.6" height="7.6"/>
<rect x="347.6" y="226.3" width="7.6" height="7.6"/>
<rect x="350.6" y="226.6" width="7.6" height="7.6"/>
<rect x="353.6" y="226.6" width="7.6" height="7.6"/>
<rect x="356.6" y="225.8" width="7.6" height="7.6"/>
<rect x="359.6" y="224.3" width="7.6" height="7.6"/>
<rect x="362.6" y="222.7" width="7.6" height="7.6"/>
<rect x="365.6" y="221.0" width="7.6" height="7.6"/>
<rect x="368.6" y="219.2" width="7.6" height="7.6"/>
<rect x="371.6" y="217.5" width="7.6" height="7.6"/>
<rect x="374.6" y="215.7" width="7.6" height="7.6"/>
</g>
<g fill="none" stroke-linejoin="round">
<path d="M86.5,70.6 C88.5,71.4 94.5,73.8 98.5,75.4 C102.5,77.0 106.5,78.6 110.5,80.2 C114.5,81.8 118.5,83.5 122.5,85.2 C126.5,86.9 130.5,88.7 134.5,90.6 C138.5,92.5 142.5,94.5 146.5,96.6 C150.5,98.7 154.5,101.0 158.5,103.5 C162.5,105.9 166.5,108.5 170.5,111.4 C174.5,114.3 180.1,118.7 182.5,120.6 C184.9,122.5 182.9,120.8 185.0,122.7 C187.1,124.6 192.0,129.1 195.0,132.0 C198.0,134.9 200.5,137.1 203.0,140.0 C205.5,142.9 207.8,146.2 210.0,149.5 C212.2,152.8 214.2,156.6 216.0,160.0 C217.8,163.4 219.2,166.7 220.5,170.0 C221.8,173.3 222.9,176.8 224.0,180.0 C225.1,183.2 226.0,186.0 227.0,189.0 C228.0,192.0 229.1,194.8 230.0,198.0 C230.9,201.2 231.8,204.0 232.5,208.0 C233.2,212.0 233.8,215.8 234.2,222.0 C234.6,228.2 235.0,222.6 235.2,245.0 C235.4,267.4 235.5,338.1 235.6,356.7" stroke="#000" stroke-width="2.6"/>
<path d="M235.6,300.0 C235.7,290.0 236.0,253.3 236.3,240.0 C236.6,226.7 237.2,224.8 237.6,220.0 C238.0,215.2 238.5,213.5 239.0,211.0 C239.5,208.5 239.8,206.8 240.5,205.0 C241.2,203.2 242.1,201.7 243.0,200.5 C243.9,199.3 244.8,198.3 246.0,197.6 C247.2,196.8 248.7,196.3 250.0,196.0 C251.3,195.7 253.0,195.6 254.0,195.5 C255.0,195.4 255.3,195.5 256.0,195.5 C256.7,195.5 257.3,195.6 258.0,195.6 C258.7,195.7 259.3,195.8 260.0,196.0 C260.7,196.1 261.3,196.3 262.0,196.5 C262.7,196.7 263.3,196.9 264.0,197.1 C264.7,197.3 265.3,197.6 266.0,197.9 C266.7,198.2 267.3,198.4 268.0,198.8 C268.7,199.1 269.3,199.4 270.0,199.8 C270.7,200.1 271.3,200.5 272.0,200.8 C272.7,201.2 273.3,201.6 274.0,201.9 C274.7,202.3 275.3,202.7 276.0,203.1 C276.7,203.5 277.3,203.9 278.0,204.3 C278.7,204.7 279.3,205.1 280.0,205.5 C280.7,205.9 281.3,206.3 282.0,206.7 C282.7,207.2 283.3,207.6 284.0,208.0 C284.7,208.4 285.3,208.8 286.0,209.3 C286.7,209.7 287.3,210.1 288.0,210.5 C288.7,211.0 289.3,211.4 290.0,211.8 C290.7,212.3 291.3,212.7 292.0,213.2 C292.7,213.6 293.3,214.1 294.0,214.6 C294.7,215.1 295.3,215.7 296.0,216.2 C296.7,216.7 297.3,217.3 298.0,217.9 C298.7,218.4 299.3,219.0 300.0,219.7 C300.7,220.3 301.3,220.9 302.0,221.6 C302.7,222.3 303.3,223.0 304.0,223.7 C304.7,224.4 305.3,225.2 306.0,226.0 C306.7,226.8 307.3,227.6 308.0,228.5 C308.7,229.4 309.3,230.3 310.0,231.2 C310.7,232.1 311.3,233.1 312.0,234.1 C312.7,235.1 313.3,236.1 314.0,237.2 C314.7,238.2 315.3,239.3 316.0,240.5 C316.7,241.6 317.3,242.8 318.0,244.0 C318.7,245.2 319.3,246.5 320.0,247.8 C320.7,249.1 321.3,250.5 322.0,251.9 C322.7,253.3 323.3,254.8 324.0,256.4 C324.7,257.9 325.3,259.5 326.0,261.2 C326.7,262.9 327.3,264.7 328.0,266.6 C328.7,268.5 329.3,270.5 330.0,272.6 C330.7,274.7 331.3,277.0 332.0,279.2 C332.7,281.4 333.3,283.6 334.0,285.8 C334.7,288.1 335.3,290.3 336.0,292.5 C336.7,294.7 337.3,296.9 338.0,299.1 C338.7,301.3 339.3,303.5 340.0,305.8 C340.7,308.0 341.5,310.7 342.0,312.4 C342.5,314.0 342.8,315.1 343.0,315.7 M343.0,315.7 C344.3,312.7 348.2,303.9 351.0,298.0 C353.8,292.1 356.8,286.3 359.5,280.0 C362.2,273.7 364.8,266.7 367.5,260.0 C370.2,253.3 372.8,246.7 375.5,240.0 C378.2,233.3 381.1,226.7 384.0,220.0 C386.9,213.3 389.9,206.7 393.0,200.0 C396.1,193.3 399.3,186.7 402.5,180.0 C405.7,173.3 408.8,166.7 412.0,160.0 C415.2,153.3 418.7,146.2 422.0,140.0 C425.3,133.8 430.0,126.2 432.0,122.5 C434.0,118.8 433.3,119.4 434.0,117.9 C434.7,116.4 435.3,114.9 436.0,113.4 C436.7,112.0 437.3,110.5 438.0,109.1 C438.7,107.7 439.3,106.4 440.0,105.1 C440.7,103.7 441.3,102.4 442.0,101.1 C442.7,99.8 443.3,98.6 444.0,97.3 C444.7,96.1 445.3,94.9 446.0,93.7 C446.7,92.5 447.3,91.3 448.0,90.2 C448.7,89.0 449.3,87.9 450.0,86.8 C450.7,85.6 451.3,84.5 452.0,83.4 C452.7,82.3 453.3,81.2 454.0,80.2 C454.7,79.1 455.3,78.0 456.0,77.0 C456.7,75.9 457.3,74.9 458.0,73.9 C458.7,72.9 459.3,71.9 460.0,70.9 C460.7,69.9 461.3,69.0 462.0,68.1 C462.7,67.1 463.3,66.2 464.0,65.3 C464.7,64.5 465.3,63.6 466.0,62.8 C466.7,62.0 467.3,61.1 468.0,60.4 C468.7,59.6 469.3,58.9 470.0,58.1 C470.7,57.4 471.3,56.7 472.0,56.1 C472.7,55.4 473.3,54.8 474.0,54.1 C474.7,53.5 475.3,52.9 476.0,52.3 C476.7,51.7 477.3,51.1 478.0,50.5 C478.7,49.9 479.3,49.4 480.0,48.8 C480.7,48.3 481.3,47.7 482.0,47.2 C482.7,46.7 483.3,46.1 484.0,45.6 C484.7,45.1 485.3,44.6 486.0,44.1 C486.7,43.6 487.3,43.0 488.0,42.5 C488.7,42.0 489.3,41.5 490.0,41.0 C490.7,40.5 491.3,40.1 492.0,39.6 C492.7,39.1 493.3,38.6 494.0,38.2 C494.7,37.7 495.3,37.3 496.0,36.8 C496.7,36.4 497.3,36.0 498.0,35.5 C498.7,35.1 499.3,34.7 500.0,34.3 C500.7,33.9 501.3,33.5 502.0,33.1 C502.7,32.7 503.3,32.4 504.0,32.0 C504.7,31.6 505.3,31.3 506.0,31.0 C506.7,30.6 507.3,30.3 508.0,30.0 C508.7,29.7 509.3,29.4 510.0,29.1 C510.7,28.8 511.3,28.5 512.0,28.3 C512.7,28.0 513.3,27.8 514.0,27.6 C514.7,27.3 515.4,27.1 516.0,26.9 C516.6,26.7 517.3,26.6 517.6,26.5" stroke="#000" stroke-width="2.6" stroke-linecap="round"/>
<path d="M86.5,70.3 C88.5,71.1 94.5,73.6 98.5,75.2 C102.5,76.8 106.5,78.4 110.5,80.0 C114.5,81.6 118.5,83.1 122.5,84.8 C126.5,86.4 130.5,88.1 134.5,89.9 C138.5,91.7 142.5,93.6 146.5,95.6 C150.5,97.7 154.5,99.9 158.5,102.2 C162.5,104.6 166.5,107.2 170.5,110.0 C174.5,112.8 180.1,117.2 182.5,119.1 C184.9,121.0 183.1,119.1 185.0,121.2 C186.9,123.3 191.2,128.4 194.0,131.5 C196.8,134.6 199.1,137.0 201.5,140.0 C203.9,143.0 206.3,146.2 208.5,149.5 C210.7,152.8 212.8,156.6 214.5,160.0 C216.2,163.4 217.7,166.7 219.0,170.0 C220.3,173.3 221.4,176.8 222.5,180.0 C223.6,183.2 224.5,186.0 225.5,189.0 C226.5,192.0 227.6,194.8 228.5,198.0 C229.4,201.2 230.3,204.0 231.0,208.0 C231.7,212.0 232.0,215.8 232.7,222.0 C233.4,228.2 234.7,222.6 235.2,245.0 C235.7,267.4 235.5,338.1 235.6,356.7" stroke="#0a8a0a" stroke-width="2.6" stroke-dasharray="11,7"/>
<path d="M235.6,300.0 C235.8,289.2 236.2,248.7 236.6,235.0 C237.0,221.3 237.6,222.2 238.2,218.0 C238.8,213.8 239.3,212.2 240.0,210.0 C240.7,207.8 241.5,206.3 242.5,205.0 C243.5,203.7 244.6,202.8 246.0,202.0 C247.4,201.2 249.8,200.5 251.0,200.2 C252.2,199.9 252.3,200.0 253.0,200.0 C253.7,200.0 254.3,200.1 255.0,200.2 C255.7,200.3 256.3,200.4 257.0,200.5 C257.7,200.7 258.3,200.8 259.0,201.0 C259.7,201.2 260.3,201.4 261.0,201.6 C261.7,201.8 262.3,202.1 263.0,202.3 C263.7,202.6 264.3,202.8 265.0,203.1 C265.7,203.4 266.3,203.6 267.0,203.9 C267.7,204.2 268.3,204.6 269.0,204.9 C269.7,205.2 270.3,205.5 271.0,205.9 C271.7,206.3 272.3,206.6 273.0,207.0 C273.7,207.4 274.3,207.8 275.0,208.2 C275.7,208.6 276.3,209.0 277.0,209.4 C277.7,209.8 278.3,210.3 279.0,210.7 C279.7,211.1 280.3,211.6 281.0,212.1 C281.7,212.5 282.3,213.0 283.0,213.5 C283.7,214.0 284.3,214.5 285.0,215.0 C285.7,215.5 286.3,216.1 287.0,216.6 C287.7,217.1 288.3,217.7 289.0,218.2 C289.7,218.8 290.3,219.4 291.0,220.0 C291.7,220.6 292.3,221.2 293.0,221.8 C293.7,222.4 294.3,223.0 295.0,223.7 C295.7,224.3 296.3,225.0 297.0,225.7 C297.7,226.4 298.3,227.1 299.0,227.8 C299.7,228.5 300.3,229.2 301.0,230.0 C301.7,230.7 302.3,231.5 303.0,232.2 C303.7,233.0 304.3,233.8 305.0,234.7 C305.7,235.5 306.3,236.3 307.0,237.2 C307.7,238.1 308.3,238.9 309.0,239.8 C309.7,240.7 310.3,241.7 311.0,242.6 C311.7,243.5 312.3,244.5 313.0,245.4 C313.7,246.4 314.3,247.4 315.0,248.4 C315.7,249.4 316.3,250.5 317.0,251.7 C317.7,252.8 318.3,254.1 319.0,255.5 C319.7,256.8 320.3,258.2 321.0,259.8 C321.7,261.3 322.3,262.9 323.0,264.6 C323.7,266.3 324.3,268.0 325.0,269.9 C325.7,271.7 326.3,273.7 327.0,275.7 C327.7,277.6 328.3,279.7 329.0,281.8 C329.7,283.8 330.3,285.8 331.0,287.9 C331.7,290.0 332.3,292.0 333.0,294.4 C333.7,296.7 334.3,299.1 335.0,301.8 C335.7,304.5 336.3,307.3 337.0,310.6 C337.7,314.0 338.3,317.7 339.0,322.0 C339.7,326.3 340.6,333.9 341.0,336.3 C341.4,338.7 340.8,335.2 341.2,336.3 C341.6,337.4 342.8,341.3 343.5,343.0 C344.2,344.7 345.3,345.9 345.7,346.5 M345.7,346.5 C346.1,345.8 347.2,343.7 348.0,342.0 C348.8,340.3 349.5,338.4 350.3,336.1 C351.1,333.8 352.1,330.7 353.0,328.0 C353.9,325.3 354.9,322.7 356.0,320.0 C357.1,317.3 358.5,314.5 359.5,312.0 C360.5,309.5 360.9,307.8 362.0,305.0 C363.1,302.2 364.2,299.2 366.0,295.0 C367.8,290.8 370.8,285.3 373.0,280.0 C375.2,274.7 376.8,269.2 379.0,263.0 C381.2,256.8 383.3,250.1 386.0,243.0 C388.7,235.9 391.6,228.7 395.0,220.5 C398.4,212.3 404.2,199.1 406.5,194.0 C408.8,188.9 407.8,191.1 408.5,189.7 C409.2,188.3 409.8,186.9 410.5,185.5 C411.2,184.1 411.8,182.8 412.5,181.4 C413.2,180.1 413.8,178.8 414.5,177.6 C415.2,176.3 415.8,175.0 416.5,173.8 C417.2,172.5 417.8,171.3 418.5,170.0 C419.2,168.8 419.8,167.5 420.5,166.2 C421.2,165.0 421.8,163.7 422.5,162.4 C423.2,161.2 423.8,159.9 424.5,158.7 C425.2,157.4 425.8,156.1 426.5,154.9 C427.2,153.6 427.8,152.3 428.5,151.1 C429.2,149.8 429.8,148.5 430.5,147.3 C431.2,146.0 431.8,144.7 432.5,143.5 C433.2,142.2 433.8,140.9 434.5,139.6 C435.2,138.4 435.8,137.1 436.5,135.8 C437.2,134.5 437.8,133.3 438.5,132.0 C439.2,130.7 439.8,129.4 440.5,128.1 C441.2,126.9 441.8,125.6 442.5,124.3 C443.2,123.0 443.8,121.7 444.5,120.4 C445.2,119.1 445.8,117.9 446.5,116.6 C447.2,115.3 447.8,114.1 448.5,112.8 C449.2,111.6 449.8,110.4 450.5,109.2 C451.2,107.9 451.8,106.8 452.5,105.6 C453.2,104.4 453.8,103.2 454.5,102.1 C455.2,100.9 455.8,99.8 456.5,98.6 C457.2,97.5 457.8,96.3 458.5,95.2 C459.2,94.1 459.8,92.9 460.5,91.8 C461.2,90.7 461.8,89.6 462.5,88.5 C463.2,87.3 463.8,86.2 464.5,85.1 C465.2,84.0 465.8,82.9 466.5,81.8 C467.2,80.8 467.8,79.7 468.5,78.7 C469.2,77.6 469.8,76.6 470.5,75.6 C471.2,74.6 471.8,73.7 472.5,72.7 C473.2,71.8 473.8,70.9 474.5,70.0 C475.2,69.0 475.8,68.2 476.5,67.3 C477.2,66.4 477.8,65.6 478.5,64.8 C479.2,64.0 479.8,63.2 480.5,62.4 C481.2,61.7 481.8,60.9 482.5,60.2 C483.2,59.5 483.8,58.8 484.5,58.1 C485.2,57.4 485.8,56.8 486.5,56.1 C487.2,55.5 487.8,54.9 488.5,54.2 C489.2,53.6 489.8,53.0 490.5,52.4 C491.2,51.8 491.8,51.2 492.5,50.7 C493.2,50.1 493.8,49.5 494.5,49.0 C495.2,48.4 495.8,47.9 496.5,47.4 C497.2,46.8 497.8,46.3 498.5,45.8 C499.2,45.3 499.8,44.8 500.5,44.3 C501.2,43.8 501.8,43.3 502.5,42.9 C503.2,42.4 503.8,41.9 504.5,41.5 C505.2,41.0 505.8,40.5 506.5,40.1 C507.2,39.7 507.8,39.2 508.5,38.8 C509.2,38.4 509.8,38.0 510.5,37.5 C511.2,37.1 511.8,36.7 512.5,36.3 C513.2,35.9 513.8,35.5 514.5,35.1 C515.2,34.8 516.0,34.3 516.5,34.0 C517.0,33.7 517.4,33.6 517.6,33.5" stroke="#0a8a0a" stroke-width="2.6" stroke-dasharray="11,7"/>
<path d="M86.5,80.5 C88.5,81.3 94.5,83.8 98.5,85.5 C102.5,87.2 106.5,88.8 110.5,90.6 C114.5,92.3 118.5,94.0 122.5,95.8 C126.5,97.7 130.5,99.5 134.5,101.5 C138.5,103.4 143.9,106.3 146.5,107.6 C149.1,108.9 149.1,108.8 150.0,109.3 C150.9,109.8 151.3,110.1 152.0,110.5 C152.7,110.9 153.3,111.2 154.0,111.6 C154.7,112.0 155.3,112.4 156.0,112.8 C156.7,113.2 157.3,113.6 158.0,114.0 C158.7,114.4 159.3,114.8 160.0,115.2 C160.7,115.6 161.3,116.0 162.0,116.5 C162.7,116.9 163.3,117.3 164.0,117.7 C164.7,118.1 165.3,118.5 166.0,118.9 C166.7,119.3 167.3,119.7 168.0,120.1 C168.7,120.5 169.3,120.9 170.0,121.3 C170.7,121.7 171.3,122.1 172.0,122.5 C172.7,123.0 173.3,123.4 174.0,123.9 C174.7,124.3 175.3,124.8 176.0,125.2 C176.7,125.7 177.3,126.2 178.0,126.7 C178.7,127.2 179.3,127.7 180.0,128.2 C180.7,128.7 181.3,129.2 182.0,129.8 C182.7,130.3 183.3,130.8 184.0,131.4 C184.7,131.9 185.3,132.5 186.0,133.0 C186.7,133.6 187.3,134.1 188.0,134.7 C188.7,135.3 189.3,135.9 190.0,136.4 C190.7,137.0 191.3,137.6 192.0,138.2 C192.7,138.8 193.3,139.4 194.0,140.1 C194.7,140.7 195.3,141.3 196.0,141.9 C196.7,142.6 197.3,143.2 198.0,143.8 C198.7,144.5 199.3,145.1 200.0,145.8 C200.7,146.5 201.3,147.2 202.0,147.9 C202.7,148.7 203.3,149.5 204.0,150.3 C204.7,151.2 205.3,152.0 206.0,153.0 C206.7,153.9 207.3,154.9 208.0,155.9 C208.7,156.9 209.3,158.0 210.0,159.2 C210.7,160.3 211.3,161.6 212.0,162.8 C212.7,164.1 213.3,165.5 214.0,166.8 C214.7,168.2 215.3,169.6 216.0,171.0 C216.7,172.4 217.3,173.9 218.0,175.4 C218.7,176.8 219.3,178.3 220.0,179.8 C220.7,181.4 221.6,183.6 222.0,184.5 C222.4,185.3 222.1,184.8 222.2,185.1 C222.4,185.3 222.6,185.8 222.8,186.2 C222.9,186.6 223.1,187.0 223.2,187.4 C223.4,187.8 223.6,188.3 223.8,188.6 C223.9,188.9 223.9,189.1 224.0,189.3 C224.1,189.5 224.1,189.6 224.2,189.9 C224.4,190.2 224.6,190.7 224.8,191.1 C224.9,191.6 225.1,192.0 225.2,192.4 C225.4,192.8 225.6,193.4 225.8,193.7 C225.9,194.0 225.9,194.2 226.0,194.4 C226.1,194.6 226.1,194.7 226.2,195.1 C226.4,195.4 226.6,195.9 226.8,196.4 C226.9,196.8 227.1,197.3 227.2,197.8 C227.4,198.2 227.6,198.8 227.8,199.1 C227.9,199.5 227.9,199.6 228.0,199.8 C228.1,200.0 228.1,200.2 228.2,200.5 C228.4,200.8 228.6,201.4 228.8,201.9 C228.9,202.3 229.1,202.8 229.2,203.2 C229.4,203.7 229.6,204.3 229.8,204.6 C229.9,205.0 229.9,205.1 230.0,205.3 C230.1,205.5 230.1,205.6 230.2,206.0 C230.4,206.4 230.6,207.0 230.8,207.5 C230.9,208.1 231.1,208.6 231.2,209.2 C231.4,209.8 231.6,210.6 231.8,211.1 C231.9,211.6 231.9,211.8 232.0,212.1 C232.1,212.4 232.1,212.6 232.2,213.1 C232.4,213.7 232.6,214.5 232.8,215.4 C232.9,216.3 233.1,217.3 233.2,218.5 C233.4,219.7 233.6,221.4 233.8,222.5 C233.9,223.5 233.9,224.0 234.0,224.8 C234.1,225.6 234.1,225.9 234.2,227.4 C234.4,228.9 234.6,232.1 234.8,233.8 C234.9,235.6 234.9,233.2 235.0,237.9 C235.1,242.6 235.4,242.2 235.5,262.0 C235.6,281.8 235.6,340.9 235.6,356.7" stroke="#1010dd" stroke-width="2.6"/>
<path d="M235.6,300.0 C235.7,291.7 235.7,260.8 235.9,250.0 C236.1,239.2 236.3,239.7 236.6,235.0 C236.9,230.3 237.2,225.5 237.6,222.0 C238.0,218.5 238.3,216.4 238.8,214.0 C239.3,211.6 239.6,209.4 240.5,207.5 C241.4,205.6 242.6,203.5 244.0,202.3 C245.4,201.1 247.8,200.6 249.0,200.3 C250.2,200.0 250.3,200.4 251.0,200.5 C251.7,200.6 252.3,200.7 253.0,200.8 C253.7,201.0 254.3,201.1 255.0,201.3 C255.7,201.5 256.3,201.7 257.0,201.9 C257.7,202.1 258.3,202.3 259.0,202.6 C259.7,202.8 260.3,203.0 261.0,203.3 C261.7,203.5 262.3,203.8 263.0,204.1 C263.7,204.4 264.3,204.6 265.0,204.9 C265.7,205.2 266.3,205.5 267.0,205.8 C267.7,206.1 268.3,206.4 269.0,206.8 C269.7,207.1 270.3,207.4 271.0,207.7 C271.7,208.1 272.3,208.4 273.0,208.7 C273.7,209.1 274.3,209.4 275.0,209.8 C275.7,210.1 276.3,210.5 277.0,210.8 C277.7,211.2 278.3,211.5 279.0,211.9 C279.7,212.2 280.3,212.6 281.0,213.0 C281.7,213.3 282.3,213.7 283.0,214.1 C283.7,214.4 284.3,214.8 285.0,215.2 C285.7,215.6 286.3,216.0 287.0,216.4 C287.7,216.8 288.3,217.1 289.0,217.6 C289.7,218.0 290.3,218.4 291.0,218.8 C291.7,219.2 292.3,219.6 293.0,220.1 C293.7,220.5 294.3,220.9 295.0,221.4 C295.7,221.8 296.3,222.3 297.0,222.7 C297.7,223.2 298.3,223.7 299.0,224.1 C299.7,224.6 300.3,225.0 301.0,225.5 C301.7,226.0 302.3,226.4 303.0,226.9 C303.7,227.4 304.3,227.8 305.0,228.3 C305.7,228.8 306.3,229.3 307.0,229.9 C307.7,230.4 308.3,231.0 309.0,231.6 C309.7,232.2 310.3,232.9 311.0,233.6 C311.7,234.3 312.3,235.0 313.0,235.8 C313.7,236.5 314.3,237.4 315.0,238.2 C315.7,239.1 316.3,240.0 317.0,241.0 C317.7,242.0 318.3,243.0 319.0,244.1 C319.7,245.1 320.3,246.2 321.0,247.2 C321.7,248.3 322.3,249.4 323.0,250.5 C323.7,251.6 324.3,252.7 325.0,253.8 C325.7,254.9 326.3,256.0 327.0,257.1 C327.7,258.3 328.3,259.4 329.0,260.5 C329.7,261.7 330.3,262.8 331.0,264.1 C331.7,265.3 332.3,266.7 333.0,268.2 C333.7,269.7 334.3,271.2 335.0,273.0 C335.7,274.7 336.3,276.6 337.0,278.7 C337.7,280.8 338.3,283.2 339.0,285.7 C339.7,288.2 340.3,290.8 341.0,293.6 C341.7,296.4 342.3,299.3 343.0,302.2 C343.7,305.2 344.6,309.5 345.0,311.5 C345.4,313.4 345.2,311.6 345.6,313.9 C346.0,316.1 346.7,317.9 347.5,325.0 C348.3,332.1 349.8,351.4 350.3,356.7" stroke="#1010dd" stroke-width="2.6"/>
<path d="M453.9,356.7 C454.6,350.2 456.6,330.8 458.0,318.0 C459.4,305.2 460.9,290.5 462.2,280.0 C463.5,269.5 464.5,263.3 465.6,255.0 C466.7,246.7 467.8,238.3 469.0,230.0 C470.2,221.7 471.8,213.3 473.1,205.0 C474.4,196.7 475.8,186.7 476.8,180.0 C477.8,173.3 478.2,169.2 478.9,165.0 C479.6,160.8 480.0,159.0 480.8,155.0 C481.6,151.0 482.7,145.5 483.9,141.0 C485.1,136.5 486.3,132.2 488.0,128.0 C489.7,123.8 492.0,119.1 494.0,115.5 C496.0,111.9 498.2,109.0 500.0,106.5 C501.8,104.0 503.2,102.5 505.0,100.5 C506.8,98.5 508.9,96.5 511.0,94.5 C513.1,92.5 516.5,89.7 517.6,88.7" stroke="#1010dd" stroke-width="2.6"/>
</g>
</g>
<path d="M86.1,356.7v-6.6 M86.1,11.3v6.6 M115.8,356.7v-9.8 M115.8,11.3v9.8 M145.6,356.7v-6.6 M145.6,11.3v6.6 M175.4,356.7v-9.8 M175.4,11.3v9.8 M205.1,356.7v-6.6 M205.1,11.3v6.6 M234.9,356.7v-9.8 M234.9,11.3v9.8 M264.6,356.7v-6.6 M264.6,11.3v6.6 M294.4,356.7v-9.8 M294.4,11.3v9.8 M324.2,356.7v-6.6 M324.2,11.3v6.6 M353.9,356.7v-9.8 M353.9,11.3v9.8 M383.7,356.7v-6.6 M383.7,11.3v6.6 M413.4,356.7v-9.8 M413.4,11.3v9.8 M443.2,356.7v-6.6 M443.2,11.3v6.6 M473.0,356.7v-9.8 M473.0,11.3v9.8 M502.7,356.7v-6.6 M502.7,11.3v6.6 M71.2,356.7h6.6 M517.6,356.7h-6.6 M71.2,353.0h6.6 M517.6,353.0h-6.6 M71.2,349.8h6.6 M517.6,349.8h-6.6 M71.2,347.0h6.6 M517.6,347.0h-6.6 M71.2,344.6h6.6 M517.6,344.6h-6.6 M71.2,342.5h9.8 M517.6,342.5h-9.8 M71.2,328.2h6.6 M517.6,328.2h-6.6 M71.2,319.9h6.6 M517.6,319.9h-6.6 M71.2,314.0h6.6 M517.6,314.0h-6.6 M71.2,309.4h6.6 M517.6,309.4h-6.6 M71.2,305.6h6.6 M517.6,305.6h-6.6 M71.2,302.5h6.6 M517.6,302.5h-6.6 M71.2,299.7h6.6 M517.6,299.7h-6.6 M71.2,297.3h6.6 M517.6,297.3h-6.6 M71.2,295.2h9.8 M517.6,295.2h-9.8 M71.2,280.9h6.6 M517.6,280.9h-6.6 M71.2,272.6h6.6 M517.6,272.6h-6.6 M71.2,266.7h6.6 M517.6,266.7h-6.6 M71.2,262.1h6.6 M517.6,262.1h-6.6 M71.2,258.3h6.6 M517.6,258.3h-6.6 M71.2,255.2h6.6 M517.6,255.2h-6.6 M71.2,252.4h6.6 M517.6,252.4h-6.6 M71.2,250.0h6.6 M517.6,250.0h-6.6 M71.2,247.8h9.8 M517.6,247.8h-9.8 M71.2,233.6h6.6 M517.6,233.6h-6.6 M71.2,225.3h6.6 M517.6,225.3h-6.6 M71.2,219.4h6.6 M517.6,219.4h-6.6 M71.2,214.8h6.6 M517.6,214.8h-6.6 M71.2,211.0h6.6 M517.6,211.0h-6.6 M71.2,207.9h6.6 M517.6,207.9h-6.6 M71.2,205.1h6.6 M517.6,205.1h-6.6 M71.2,202.7h6.6 M517.6,202.7h-6.6 M71.2,200.5h9.8 M517.6,200.5h-9.8 M71.2,186.3h6.6 M517.6,186.3h-6.6 M71.2,178.0h6.6 M517.6,178.0h-6.6 M71.2,172.1h6.6 M517.6,172.1h-6.6 M71.2,167.5h6.6 M517.6,167.5h-6.6 M71.2,163.7h6.6 M517.6,163.7h-6.6 M71.2,160.6h6.6 M517.6,160.6h-6.6 M71.2,157.8h6.6 M517.6,157.8h-6.6 M71.2,155.4h6.6 M517.6,155.4h-6.6 M71.2,153.2h9.8 M517.6,153.2h-9.8 M71.2,139.0h6.6 M517.6,139.0h-6.6 M71.2,130.7h6.6 M517.6,130.7h-6.6 M71.2,124.7h6.6 M517.6,124.7h-6.6 M71.2,120.2h6.6 M517.6,120.2h-6.6 M71.2,116.4h6.6 M517.6,116.4h-6.6 M71.2,113.2h6.6 M517.6,113.2h-6.6 M71.2,110.5h6.6 M517.6,110.5h-6.6 M71.2,108.1h6.6 M517.6,108.1h-6.6 M71.2,105.9h9.8 M517.6,105.9h-9.8 M71.2,91.7h6.6 M517.6,91.7h-6.6 M71.2,83.3h6.6 M517.6,83.3h-6.6 M71.2,77.4h6.6 M517.6,77.4h-6.6 M71.2,72.8h6.6 M517.6,72.8h-6.6 M71.2,69.1h6.6 M517.6,69.1h-6.6 M71.2,65.9h6.6 M517.6,65.9h-6.6 M71.2,63.2h6.6 M517.6,63.2h-6.6 M71.2,60.8h6.6 M517.6,60.8h-6.6 M71.2,58.6h9.8 M517.6,58.6h-9.8 M71.2,44.4h6.6 M517.6,44.4h-6.6 M71.2,36.0h6.6 M517.6,36.0h-6.6 M71.2,30.1h6.6 M517.6,30.1h-6.6 M71.2,25.5h6.6 M517.6,25.5h-6.6 M71.2,21.8h6.6 M517.6,21.8h-6.6 M71.2,18.6h6.6 M517.6,18.6h-6.6 M71.2,15.9h6.6 M517.6,15.9h-6.6 M71.2,13.5h6.6 M517.6,13.5h-6.6 M71.2,11.3h9.8 M517.6,11.3h-9.8" stroke="#000" stroke-width="1.6" fill="none"/>
<rect x="71.2" y="11.3" width="446.4" height="345.4" fill="none" stroke="#000" stroke-width="1.8"/>
<text x="115.8" y="376" font-size="19.5" text-anchor="middle">-0.4</text>
<text x="175.4" y="376" font-size="19.5" text-anchor="middle">-0.2</text>
<text x="234.9" y="376" font-size="19.5" text-anchor="middle">0.0</text>
<text x="294.4" y="376" font-size="19.5" text-anchor="middle">0.2</text>
<text x="353.9" y="376" font-size="19.5" text-anchor="middle">0.4</text>
<text x="413.4" y="376" font-size="19.5" text-anchor="middle">0.6</text>
<text x="473.0" y="376" font-size="19.5" text-anchor="middle">0.8</text>
<text x="54.6" y="22.7" font-size="19.5" text-anchor="end">10</text>
<text x="55.1" y="10.7" font-size="12.5">-2</text>
<text x="54.6" y="70.0" font-size="19.5" text-anchor="end">10</text>
<text x="55.1" y="58.0" font-size="12.5">-3</text>
<text x="54.6" y="117.3" font-size="19.5" text-anchor="end">10</text>
<text x="55.1" y="105.3" font-size="12.5">-4</text>
<text x="54.6" y="164.6" font-size="19.5" text-anchor="end">10</text>
<text x="55.1" y="152.6" font-size="12.5">-5</text>
<text x="54.6" y="211.9" font-size="19.5" text-anchor="end">10</text>
<text x="55.1" y="199.9" font-size="12.5">-6</text>
<text x="54.6" y="259.2" font-size="19.5" text-anchor="end">10</text>
<text x="55.1" y="247.2" font-size="12.5">-7</text>
<text x="54.6" y="306.6" font-size="19.5" text-anchor="end">10</text>
<text x="55.1" y="294.6" font-size="12.5">-8</text>
<text x="54.6" y="353.9" font-size="19.5" text-anchor="end">10</text>
<text x="55.1" y="341.9" font-size="12.5">-9</text>
<text x="295.3" y="395.2" font-size="20" text-anchor="middle" textLength="104" lengthAdjust="spacingAndGlyphs">Voltage (V)</text>
<text transform="translate(24.2,183.2) rotate(-90) scale(1.008,1.07)" font-size="20.8" text-anchor="middle">Current Density (A/μm<tspan font-size="13.5" dy="-12">2</tspan><tspan dy="12">)</tspan></text>
<rect x="217.2" y="21.6" width="189.8" height="116.6" fill="#fff" stroke="#000" stroke-width="1.6"/>
<circle cx="240.4" cy="33.8" r="3.8" fill="none" stroke="#111" stroke-width="1.3"/>
<path d="M240.4,48.4l4.6,8.0h-9.2z" fill="none" stroke="#bc8f8f" stroke-width="1.3"/>
<rect x="237.0" y="69.6" width="6.8" height="6.8" fill="none" stroke="#22eadc" stroke-width="1.6"/>
<path d="M223.2,91.7H257.8" stroke="#000" stroke-width="2.6"/>
<path d="M223.2,109.6H257.8" stroke="#0a8a0a" stroke-width="2.6" stroke-dasharray="11,7"/>
<path d="M223.2,127.7H257.8" stroke="#1010dd" stroke-width="2.6"/>
<text transform="translate(268,37.7) scale(1,0.9)" font-size="15.7" font-weight="bold">exp_A 300K</text>
<text transform="translate(268,56.4) scale(1,0.9)" font-size="15.7" font-weight="bold">exp_B 300K</text>
<text transform="translate(268,75.1) scale(1,0.9)" font-size="15.7" font-weight="bold">exp_A 77K</text>
<text transform="translate(268,93.8) scale(1,0.9)" font-size="15.7" font-weight="bold">sim 300K</text>
<text transform="translate(268,112.6) scale(1,0.9)" font-size="15.7" font-weight="bold">sim 300K, no BGN</text>
<text transform="translate(268,131.3) scale(1,0.9)" font-size="15.7" font-weight="bold">sim 77K</text>
</svg></body></html>
